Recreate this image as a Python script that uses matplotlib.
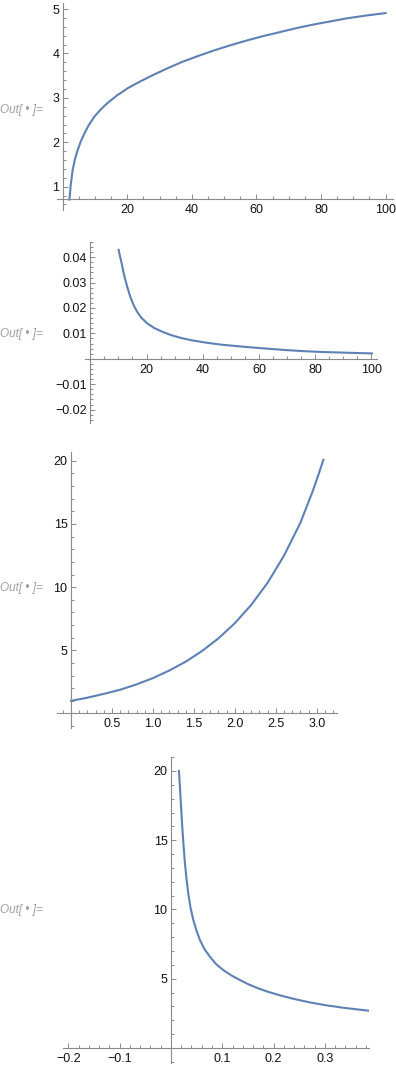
import matplotlib
matplotlib.use("Agg")
import matplotlib.pyplot as plt
from matplotlib.ticker import FixedLocator, MultipleLocator

W, H = 396, 1066
LINE_COLOR = "#5e81b5"
AXIS_COLOR = "#8a8a8a"

# panel 1: rising log-like curve
p1_x = [2.08, 2.5, 3.1, 3.8, 4.65, 5.6, 6.73, 8.1, 9.83, 11.8, 13.96, 16.9, 20.2, 24, 28.4,
        32.6, 37, 41.8, 46.5, 51.7, 56.9, 62, 67.2, 72.3, 77.5, 82.7, 87.9, 94, 100]
p1_y = [0.71, 1.05, 1.38, 1.62, 1.83, 2.02, 2.2, 2.39, 2.58, 2.74, 2.89, 3.06, 3.22, 3.37, 3.53,
        3.67, 3.81, 3.94, 4.06, 4.18, 4.29, 4.39, 4.48, 4.57, 4.65, 4.72, 4.79, 4.855, 4.91]
p1_xticks = [20, 40, 60, 80, 100]
p1_yticks = [1, 2, 3, 4, 5]

# panel 2: decaying curve
p2_x = [10.07, 10.6, 11.27, 11.8, 12.46, 13.3, 14.2, 15.3, 16.6, 18.2, 20.2, 22.6, 25.5, 28.8,
        32.6, 36.5, 40.9, 46.3, 52, 58.1, 64, 70, 76, 81.9, 88, 94, 100.2]
p2_y = [0.0429, 0.0402, 0.0370, 0.0340, 0.0311, 0.0277, 0.0245, 0.0214, 0.0186, 0.0161, 0.0140,
        0.0122, 0.0107, 0.0093, 0.0081, 0.0072, 0.0064, 0.0056, 0.0050, 0.0044, 0.0039, 0.0034,
        0.0030, 0.0027, 0.0025, 0.0023, 0.0021]
p2_xticks = [20, 40, 60, 80, 100]
p2_yticks = [-0.02, -0.01, 0.01, 0.02, 0.03, 0.04]
p2_ylabels = ["\u22120.02", "\u22120.01", "0.01", "0.02", "0.03", "0.04"]

# panel 3: exponential-like growth
p3_x = [0, 0.2, 0.4, 0.6, 0.8, 1.0, 1.2, 1.4, 1.6, 1.8, 2.0, 2.2, 2.4, 2.6, 2.8, 2.95, 3.02, 3.08]
p3_y = [1.0, 1.25, 1.55, 1.88, 2.3, 2.8, 3.4, 4.1, 4.95, 5.95, 7.15, 8.6, 10.35, 12.5, 15.1,
        17.6, 18.9, 20.08]
p3_xticks = [0.5, 1.0, 1.5, 2.0, 2.5, 3.0]
p3_yticks = [5, 10, 15, 20]

# panel 4: steep decay near zero
p4_x = [0.0156, 0.0172, 0.0189, 0.0208, 0.0228, 0.025, 0.0273, 0.0303, 0.0337, 0.038, 0.0435,
        0.05, 0.0565, 0.065, 0.076, 0.088, 0.102, 0.118, 0.1345, 0.15, 0.17, 0.19, 0.215, 0.238,
        0.27, 0.3035, 0.34, 0.3846]
p4_y = [20.0, 19.0, 17.9, 16.7, 15.5, 14.4, 13.3, 12.2, 11.16, 10.15, 9.23, 8.45, 7.79, 7.15,
        6.58, 6.05, 5.62, 5.23, 4.90, 4.61, 4.30, 4.04, 3.77, 3.55, 3.29, 3.07, 2.88, 2.69]
p4_xticks = [-0.2, -0.1, 0.1, 0.2, 0.3]
p4_xlabels = ["\u22120.2", "\u22120.1", "0.1", "0.2", "0.3"]
p4_yticks = [5, 10, 15, 20]


def box(left, top, right, bottom):
    return [left / W, 1 - bottom / H, (right - left) / W, (bottom - top) / H]


def mma_axes(ax, xlim, ylim, origin, xt, yt, xminor, yminor, xlab, ylab):
    ax.set_xlim(*xlim)
    ax.set_ylim(*ylim)
    ax.patch.set_alpha(0)
    for s in ["top", "right"]:
        ax.spines[s].set_visible(False)
    ax.spines["left"].set_position(("data", origin[0]))
    ax.spines["bottom"].set_position(("data", origin[1]))
    for s in ["left", "bottom"]:
        ax.spines[s].set_color(AXIS_COLOR)
        ax.spines[s].set_linewidth(0.8)
    ax.xaxis.set_major_locator(FixedLocator(xt))
    ax.yaxis.set_major_locator(FixedLocator(yt))
    ax.xaxis.set_minor_locator(MultipleLocator(xminor))
    ax.yaxis.set_minor_locator(MultipleLocator(yminor))
    ax.set_xticklabels(xlab)
    ax.set_yticklabels(ylab)
    ax.tick_params(which="both", direction="in", color=AXIS_COLOR, width=0.7,
                   labelsize=9, labelcolor="#111111")
    ax.tick_params(which="major", length=3.5)
    ax.tick_params(which="minor", length=2)
    ax.tick_params(axis="x", pad=3.5)
    ax.tick_params(axis="y", pad=2.5)


plt.rcParams["font.family"] = ["Liberation Sans", "DejaVu Sans"]
fig = plt.figure(figsize=(W / 100, H / 100), dpi=100)

ax1 = fig.add_axes(box(57.3, 3.3, 392.7, 210))
ax1.plot(p1_x, p1_y, color=LINE_COLOR, lw=1.5)
mma_axes(ax1, (-1.67, 102.2), (0.475, 5.13), (0, 0.716), p1_xticks, p1_yticks, 5, 0.2,
         [str(v) for v in p1_xticks], [str(v) for v in p1_yticks])

ax2 = fig.add_axes(box(85, 241.7, 376.7, 423.3))
ax2.plot(p2_x, p2_y, color=LINE_COLOR, lw=1.5)
mma_axes(ax2, (-1.89, 101.9), (-0.0254, 0.0461), (0, 0), p2_xticks, p2_yticks, 5, 0.002,
         [str(v) for v in p2_xticks], p2_ylabels)

ax3 = fig.add_axes(box(57.3, 452, 337.3, 728))
ax3.plot(p3_x, p3_y, color=LINE_COLOR, lw=1.5)
mma_axes(ax3, (-0.167, 3.25), (-1.15, 20.7), (0, 0), p3_xticks, p3_yticks, 0.1, 1,
         [f"{v:.1f}" for v in p3_xticks], [str(v) for v in p3_yticks])

ax4 = fig.add_axes(box(62.7, 756.7, 369.3, 1063))
ax4.plot(p4_x, p4_y, color=LINE_COLOR, lw=1.5)
mma_axes(ax4, (-0.211, 0.3865), (-1.09, 21.03), (0, 0), p4_xticks, p4_yticks, 0.02, 1,
         p4_xlabels, [str(v) for v in p4_yticks])

# Mathematica output cell labels
for ypix in [110, 333.7, 588.3, 910]:
    fig.text(0.5 / W, 1 - ypix / H, "Out[ \u2022 ]=", fontsize=8.5, style="italic",
             color="#a0a0a0", va="center", ha="left")

fig.savefig("out.png", dpi=100, facecolor="white")
